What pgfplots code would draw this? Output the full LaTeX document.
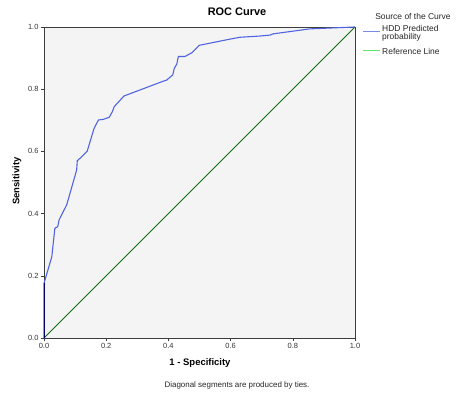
\documentclass[border=0pt]{standalone}
\usepackage{pgfplots}
\pgfplotsset{compat=1.18}
\usepackage{fontspec}
\setmainfont{Liberation Sans}
\definecolor{bgc}{RGB}{244,244,244}
\definecolor{roc}{RGB}{80,100,225}
\definecolor{diag}{RGB}{20,110,20}
\definecolor{lgreen}{RGB}{100,230,100}
\definecolor{axc}{RGB}{60,60,60}
\begin{document}
\begin{tikzpicture}
\path[use as bounding box] (-44bp,-61bp) rectangle (430bp,338bp);
\begin{axis}[
  at={(0,0)}, anchor=south west,
  scale only axis, width=311bp, height=311bp,
  xmin=0, xmax=1, ymin=0, ymax=1,
  axis background/.style={fill=bgc},
  axis line style={axc, line width=0.9pt},
  xtick={0,0.2,0.4,0.6,0.8,1}, ytick={0,0.2,0.4,0.6,0.8,1},
  tick align=outside, major tick length=3bp,
  tick style={axc, line width=0.6pt},
  xtick pos=bottom, ytick pos=left,
  tick label style={font=\fontsize{7.5}{8}\selectfont, text=black!80},
  /pgf/number format/.cd, fixed, fixed zerofill, precision=1, assume math mode=true,
  /pgfplots/.cd,
  xticklabel style={yshift=1bp},
  yticklabel style={xshift=1bp},
  clip=false,
]
\addplot[diag, line width=1pt, forget plot] coordinates {(0,0) (1,1)};
\addplot[roc, line width=1.1pt, forget plot] coordinates {
(0,0) (0,0.176) (0.025,0.261) (0.035,0.353) (0.044,0.358) (0.049,0.381)
(0.073,0.428) (0.105,0.540) (0.107,0.570) (0.116,0.578) (0.139,0.601)
(0.161,0.674) (0.175,0.701) (0.191,0.703) (0.210,0.710) (0.220,0.728)
(0.226,0.744) (0.257,0.778) (0.384,0.826) (0.394,0.829) (0.414,0.846)
(0.419,0.867) (0.427,0.881) (0.432,0.905) (0.453,0.905) (0.475,0.917)
(0.499,0.941) (0.598,0.961) (0.630,0.967) (0.695,0.971) (0.727,0.974)
(0.737,0.978) (0.855,0.994) (1,1)};
\addplot[blue!40!black, line width=0.9pt, forget plot] coordinates {(0,0) (0,0.176)};
\end{axis}
\node[font=\fontsize{11}{12}\selectfont\bfseries] at (193bp,326bp) {ROC Curve};
\node[font=\fontsize{9.5}{10}\selectfont\bfseries, rotate=90] at (-27bp,157bp) {Sensitivity};
\node[font=\fontsize{9.5}{10}\selectfont\bfseries] at (156bp,-25bp) {1 - Specificity};
\node[font=\fontsize{8}{9}\selectfont, text=black!85] at (193bp,-47bp) {Diagonal segments are produced by ties.};
\node[font=\fontsize{8.5}{9}\selectfont, text=black!85] at (369bp,322bp) {Source of the Curve};
\draw[roc!75, line width=1pt] (319bp,306bp) -- (336bp,306bp);
\node[font=\fontsize{8.5}{8.5}\selectfont, align=left, anchor=north west, inner sep=0pt, text=black!85] at (338bp,313bp) {HDD Predicted\\probability};
\draw[lgreen, line width=1pt] (319bp,287bp) -- (336bp,287bp);
\node[font=\fontsize{8.5}{9}\selectfont, anchor=west, inner sep=0pt, text=black!85] at (338bp,287bp) {Reference Line};
\end{tikzpicture}
\end{document}
